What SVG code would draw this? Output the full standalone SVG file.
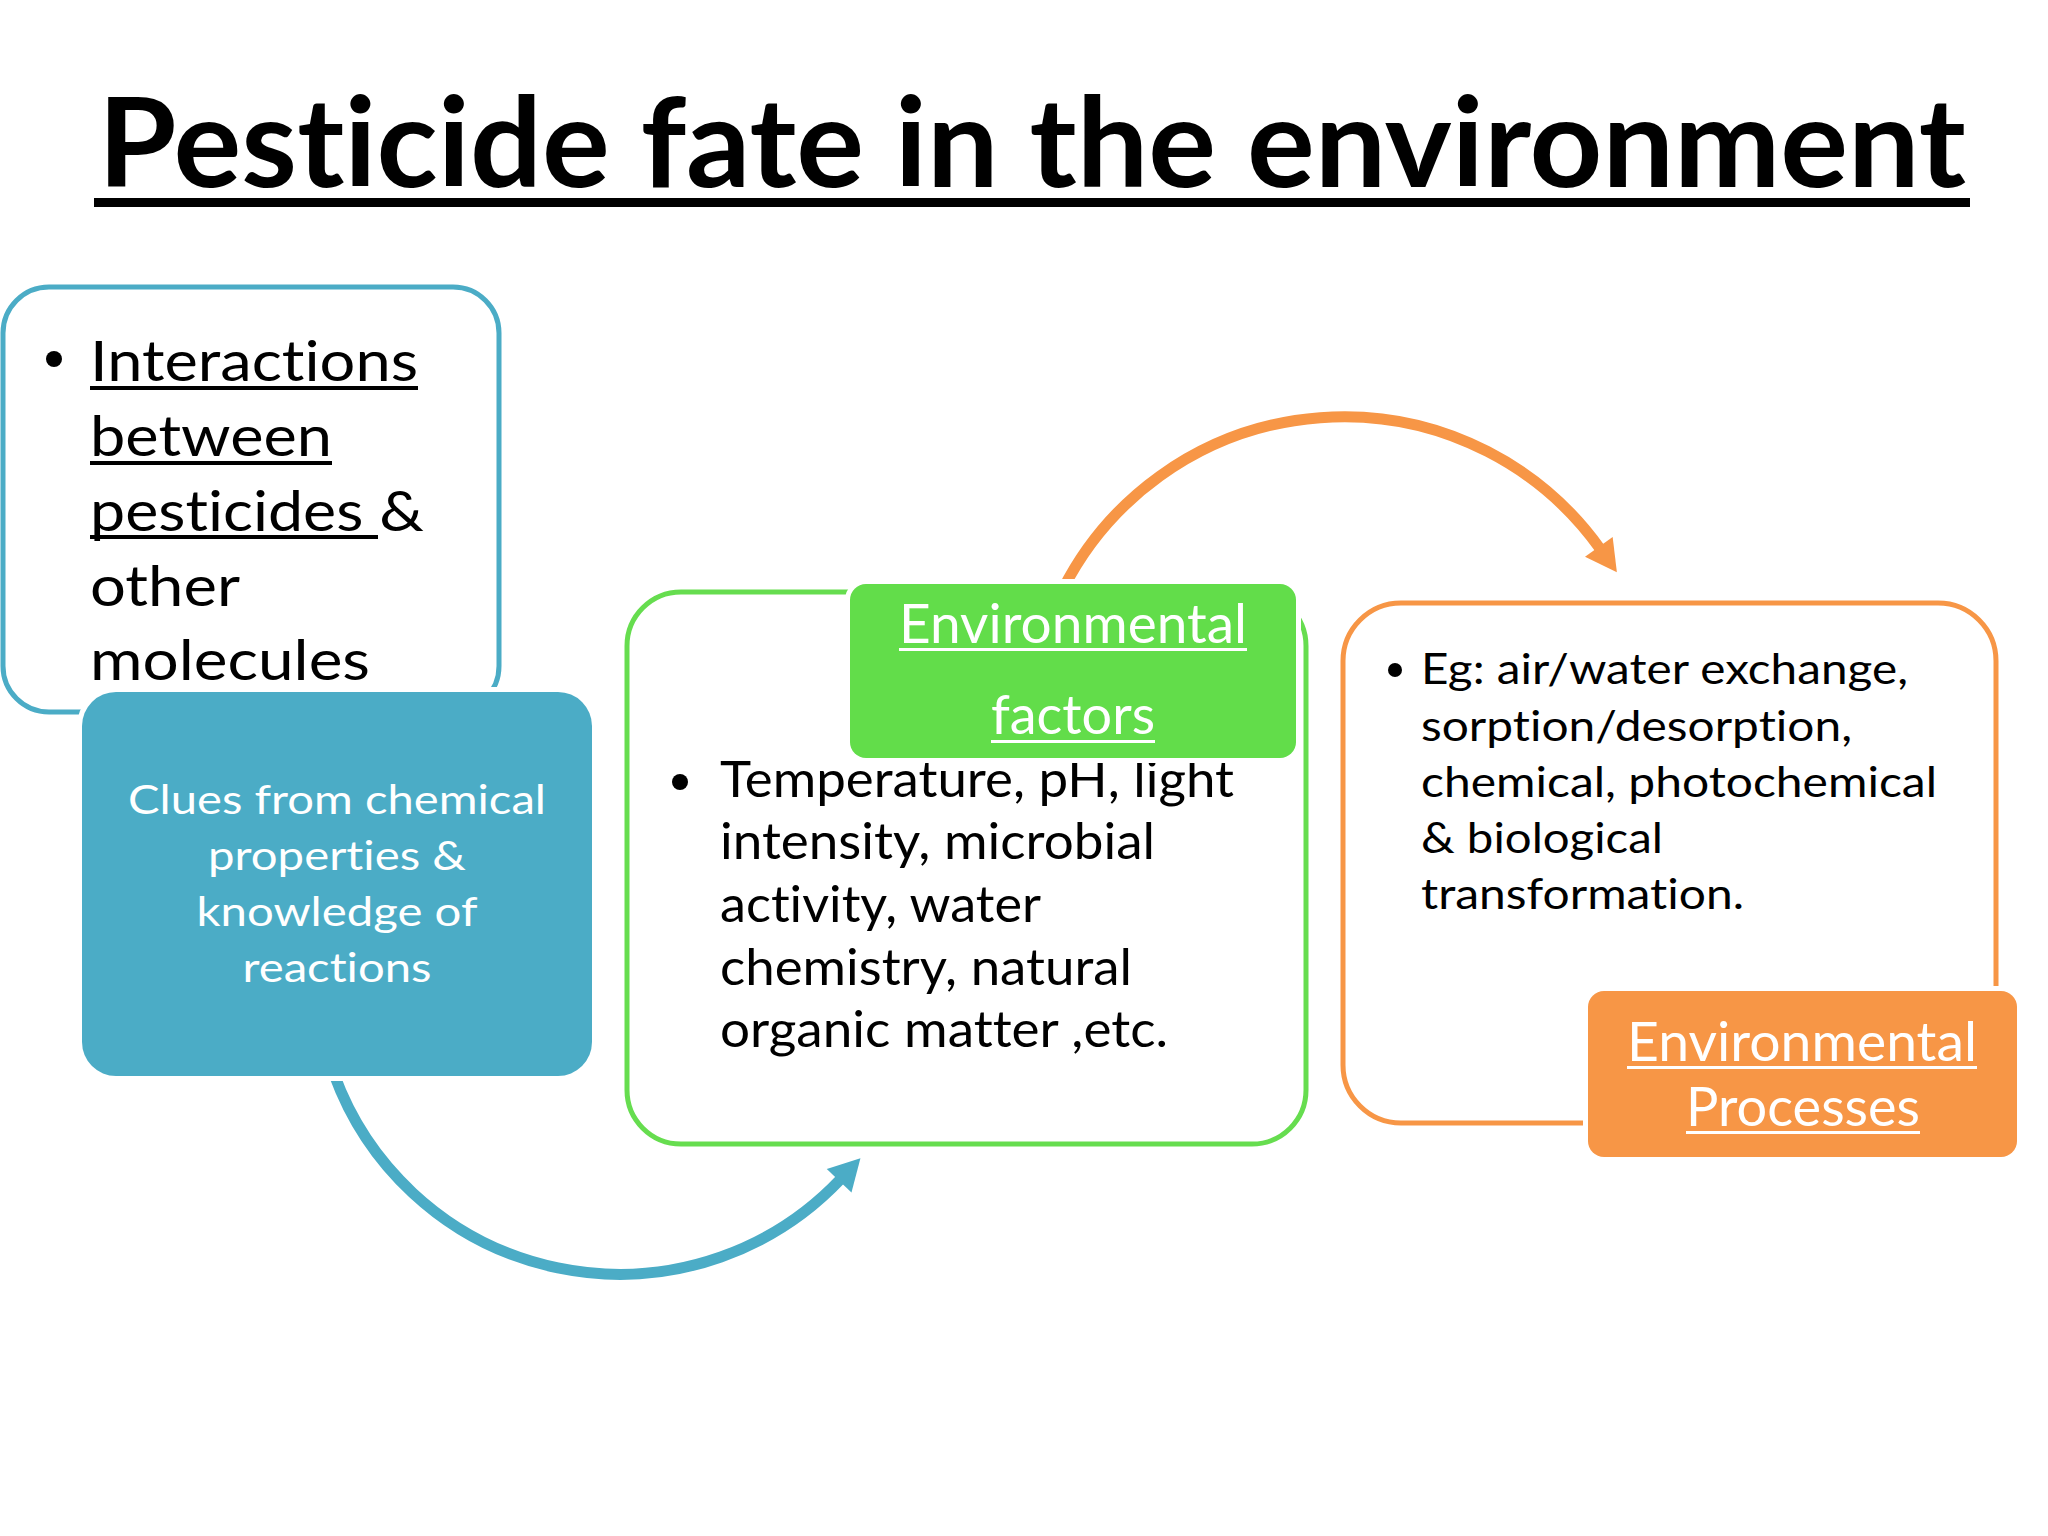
<svg xmlns="http://www.w3.org/2000/svg" width="2048" height="1536" viewBox="0 0 2048 1536">
<style>
.t{font-family:Lato,"Open Sans","Liberation Sans",sans-serif;font-variant-ligatures:none;font-feature-settings:"liga" 0,"clig" 0,"dlig" 0,"calt" 0,"hlig" 0;letter-spacing:0.01px;}
.title{font-size:124px;font-weight:700;fill:#000;}
.b1{font-size:57px;fill:#000;}
.wb{font-size:41px;fill:#fff;}
.lab{font-size:55px;fill:#fff;}
.g{font-size:50px;fill:#000;}
.o{font-size:43px;fill:#000;}
.ulk{fill:#000;}
.ulw{fill:#fff;}
.halo{stroke:#fff;stroke-width:10;paint-order:stroke;}
</style>
<defs>
<marker id="ahB" markerUnits="userSpaceOnUse" markerWidth="40" markerHeight="40" refX="0" refY="0" orient="auto" overflow="visible">
<path d="M-2,-17 L29,0 L-2,17 Z" fill="#4BACC6"/>
</marker>
<marker id="ahO" markerUnits="userSpaceOnUse" markerWidth="40" markerHeight="40" refX="0" refY="0" orient="auto" overflow="visible">
<path d="M-2,-17 L29,0 L-2,17 Z" fill="#F79646"/>
</marker>
</defs>
<rect width="2048" height="1536" fill="#fff"/>

<g id="title">
<text class="t title" x="98" y="187" textLength="1868" lengthAdjust="spacingAndGlyphs">Pesticide fate in the environment</text>
<rect x="94" y="198" width="1876" height="9" fill="#000"/>
</g>

<g id="connectors" fill="none" stroke-width="11">
<path d="M334,1074 A304,304 0 0 0 840.5,1179.3" stroke="#4BACC6" marker-end="url(#ahB)"/>
<path d="M1063,589 A315,315 0 0 1 1600,548.6" stroke="#F79646" marker-end="url(#ahO)"/>
</g>

<g id="node-interactions">
<rect x="3" y="287" width="496" height="425" rx="46" fill="#fff" stroke="#4BACC6" stroke-width="5"/>
<circle cx="54" cy="359" r="8" fill="#000"/>
<text class="t b1" x="90" y="381" textLength="328" lengthAdjust="spacingAndGlyphs">Interactions</text>
<rect class="ulk" x="90" y="386" width="328" height="4"/>
<text class="t b1" x="90" y="456" textLength="242" lengthAdjust="spacingAndGlyphs">between</text>
<rect class="ulk" x="90" y="461" width="242" height="4"/>
<text class="t b1" x="90" y="531" textLength="334" lengthAdjust="spacingAndGlyphs">pesticides &amp;</text>
<rect class="ulk" x="90" y="535" width="288" height="4"/>
<text class="t b1" x="90" y="606" textLength="150" lengthAdjust="spacingAndGlyphs">other</text>
<text class="t b1" x="90" y="680" textLength="280" lengthAdjust="spacingAndGlyphs">molecules</text>
</g>

<g id="node-clues">
<rect class="halo" x="82" y="692" width="510" height="384" rx="34" fill="#4BACC6"/>
<text class="t wb" x="337" y="814" text-anchor="middle" textLength="418" lengthAdjust="spacingAndGlyphs">Clues from chemical</text>
<text class="t wb" x="337" y="870" text-anchor="middle" textLength="258" lengthAdjust="spacingAndGlyphs">properties &amp;</text>
<text class="t wb" x="337" y="926" text-anchor="middle" textLength="281" lengthAdjust="spacingAndGlyphs">knowledge of</text>
<text class="t wb" x="337" y="982" text-anchor="middle" textLength="189" lengthAdjust="spacingAndGlyphs">reactions</text>
</g>

<g id="node-env-factors">
<rect x="627" y="592" width="679" height="552" rx="54" fill="#fff" stroke="#66DD4F" stroke-width="5"/>
<circle cx="680" cy="782" r="8" fill="#000"/>
<text class="t g" x="720" y="797" textLength="514" lengthAdjust="spacingAndGlyphs">Temperature, pH, light</text>
<text class="t g" x="720" y="859" textLength="435" lengthAdjust="spacingAndGlyphs">intensity, microbial</text>
<text class="t g" x="720" y="922" textLength="321" lengthAdjust="spacingAndGlyphs">activity, water</text>
<text class="t g" x="720" y="985" textLength="412" lengthAdjust="spacingAndGlyphs">chemistry, natural</text>
<text class="t g" x="720" y="1047" textLength="448" lengthAdjust="spacingAndGlyphs">organic matter ,etc.</text>
</g>

<g id="label-env-factors">
<rect class="halo" x="850" y="584" width="446" height="174" rx="16" fill="#62DD4A"/>
<text class="t lab" x="1073" y="643" text-anchor="middle" textLength="348" lengthAdjust="spacingAndGlyphs">Environmental</text>
<rect class="ulw" x="899" y="648" width="348" height="3"/>
<text class="t lab" x="1073" y="734" text-anchor="middle" textLength="164" lengthAdjust="spacingAndGlyphs">factors</text>
<rect class="ulw" x="991" y="740" width="164" height="3"/>
</g>

<g id="node-env-processes">
<rect x="1343" y="603" width="653" height="520" rx="58" fill="#fff" stroke="#F79646" stroke-width="5"/>
<circle cx="1395" cy="670" r="7" fill="#000"/>
<text class="t o" x="1421" y="684" textLength="487" lengthAdjust="spacingAndGlyphs">Eg: air/water exchange,</text>
<text class="t o" x="1421" y="741" textLength="431" lengthAdjust="spacingAndGlyphs">sorption/desorption,</text>
<text class="t o" x="1421" y="797" textLength="516" lengthAdjust="spacingAndGlyphs">chemical, photochemical</text>
<text class="t o" x="1421" y="853" textLength="242" lengthAdjust="spacingAndGlyphs">&amp; biological</text>
<text class="t o" x="1421" y="909" textLength="323" lengthAdjust="spacingAndGlyphs">transformation.</text>
</g>

<g id="label-env-processes">
<rect class="halo" x="1588" y="991" width="429" height="166" rx="16" fill="#F79646"/>
<text class="t lab" x="1802" y="1061" text-anchor="middle" textLength="350" lengthAdjust="spacingAndGlyphs">Environmental</text>
<rect class="ulw" x="1627" y="1066" width="350" height="3"/>
<text class="t lab" x="1803" y="1126" text-anchor="middle" textLength="234" lengthAdjust="spacingAndGlyphs">Processes</text>
<rect class="ulw" x="1686" y="1131" width="234" height="3"/>
</g>
</svg>
